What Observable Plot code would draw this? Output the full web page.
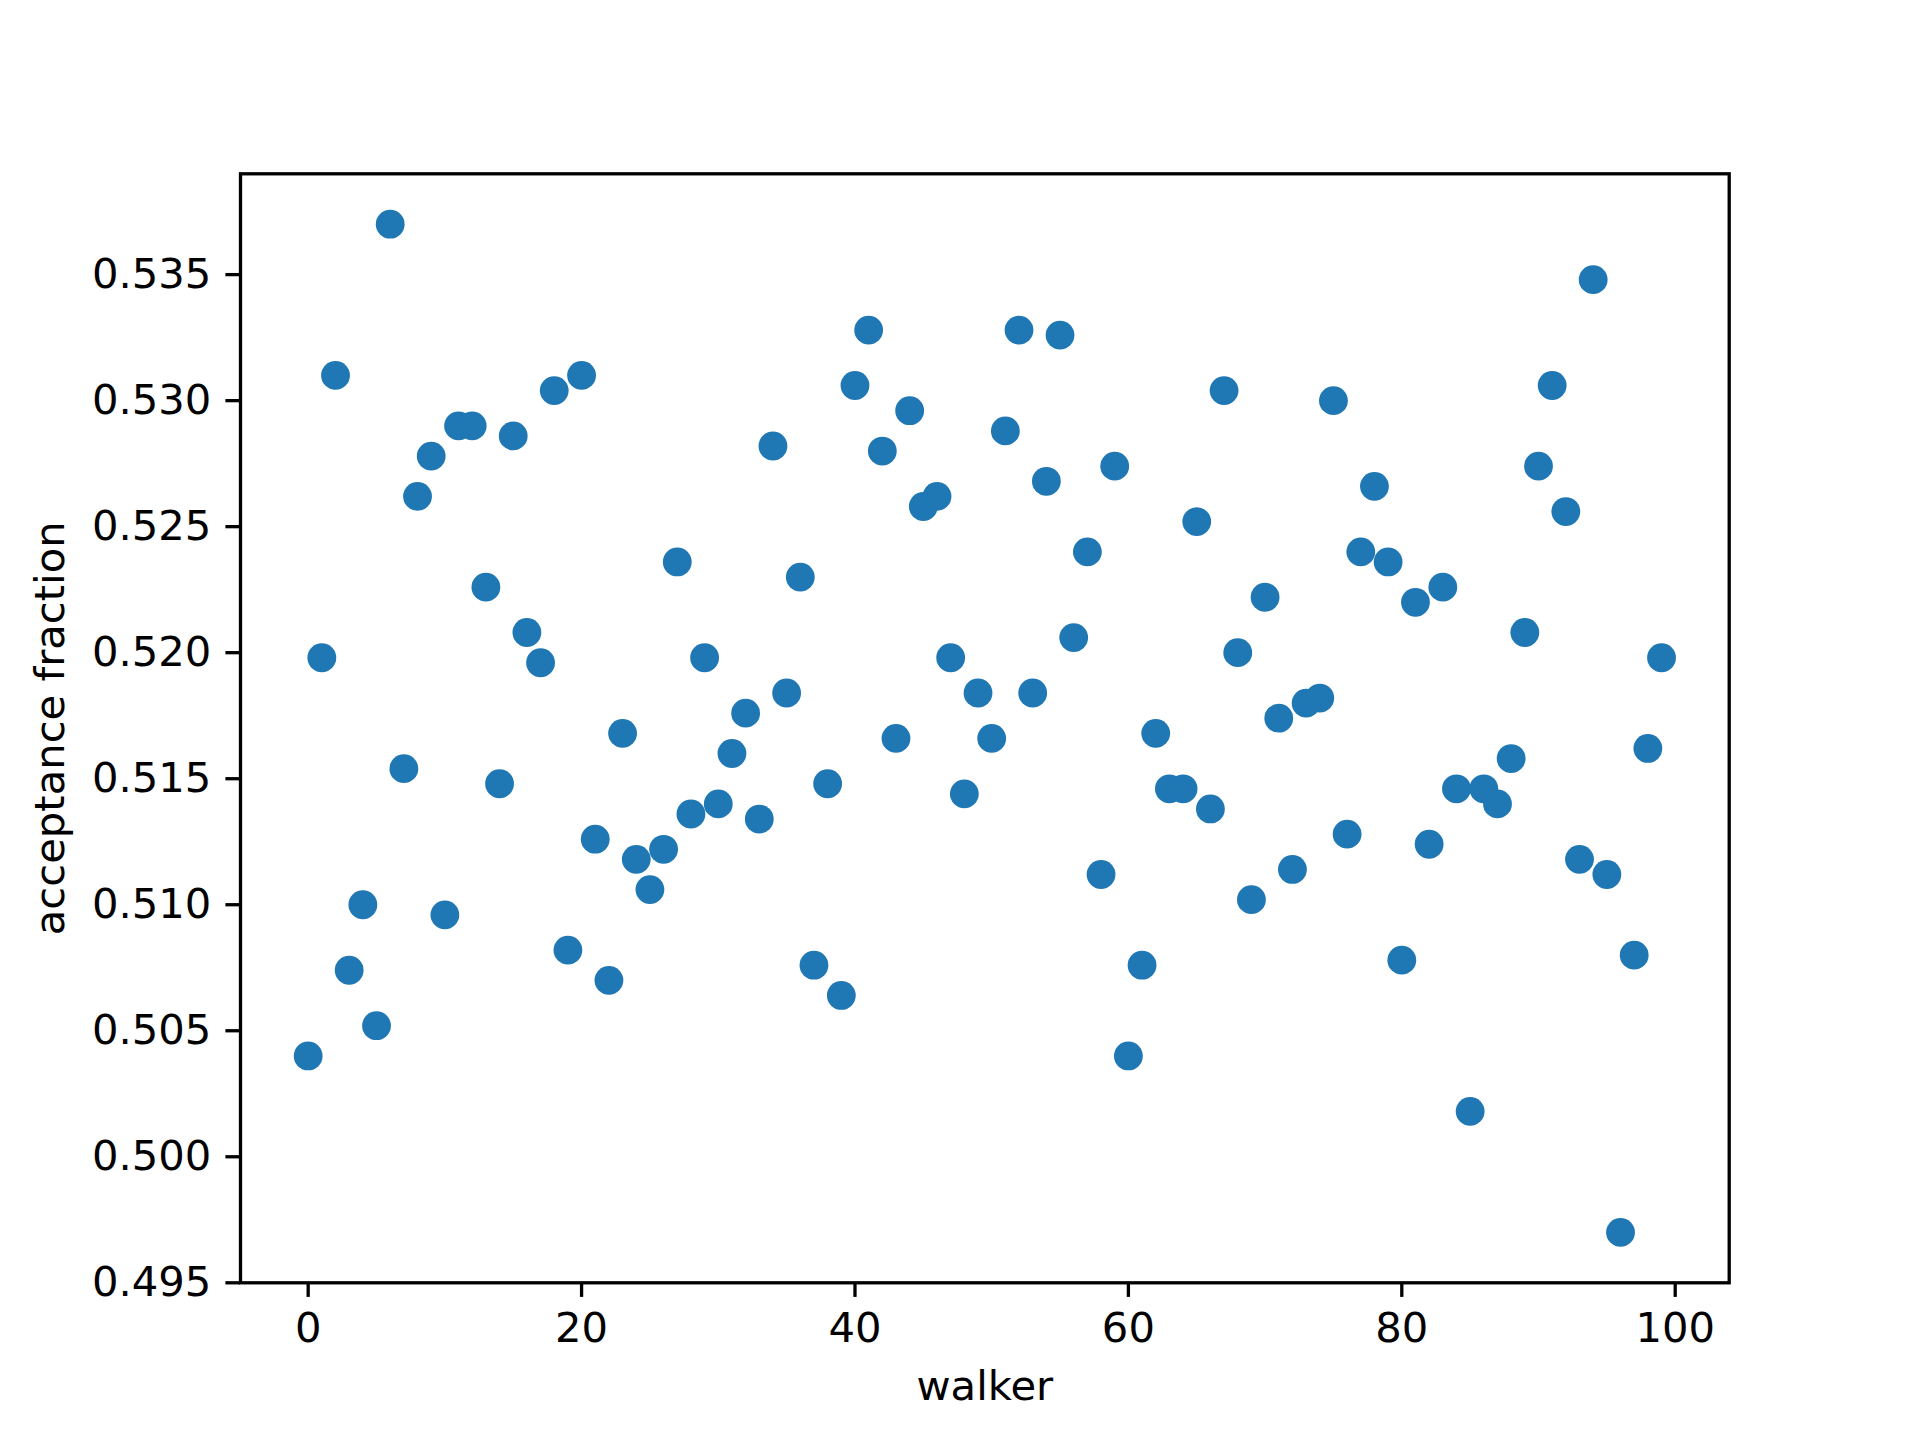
<!DOCTYPE html>
<html>
<head>
<meta charset="utf-8">
<script src="https://cdn.jsdelivr.net/npm/d3@7"></script>
<script src="https://cdn.jsdelivr.net/npm/@observablehq/plot@0.6"></script>
<style>
  html, body { margin: 0; padding: 0; background: #fff; }
  #chart { width: 1920px; height: 1440px; }
</style>
</head>
<body>
<div id="chart"></div>
<script>
// walker index (x) and acceptance fraction (y)
const walker = [
  0,1,2,3,4,5,6,7,8,9,10,11,12,13,14,15,16,17,18,19,
  20,21,22,23,24,25,26,27,28,29,30,31,32,33,34,35,36,37,38,39,
  40,41,42,43,44,45,46,47,48,49,50,51,52,53,54,55,56,57,58,59,
  60,61,62,63,64,65,66,67,68,69,70,71,72,73,74,75,76,77,78,79,
  80,81,82,83,84,85,86,87,88,89,90,91,92,93,94,95,96,97,98,99
];
const acceptance = [
  0.5040,0.5198,0.5310,0.5074,0.5100,0.5052,0.5370,0.5154,0.5262,0.5278,
  0.5096,0.5290,0.5290,0.5226,0.5148,0.5286,0.5208,0.5196,0.5304,0.5082,
  0.5310,0.5126,0.5070,0.5168,0.5118,0.5106,0.5122,0.5236,0.5136,0.5198,
  0.5140,0.5160,0.5176,0.5134,0.5282,0.5184,0.5230,0.5076,0.5148,0.5064,
  0.5306,0.5328,0.5280,0.5166,0.5296,0.5258,0.5262,0.5198,0.5144,0.5184,
  0.5166,0.5288,0.5328,0.5184,0.5268,0.5326,0.5206,0.5240,0.5112,0.5274,
  0.5040,0.5076,0.5168,0.5146,0.5146,0.5252,0.5138,0.5304,0.5200,0.5102,
  0.5222,0.5174,0.5114,0.5180,0.5182,0.5300,0.5128,0.5240,0.5266,0.5236,
  0.5078,0.5220,0.5124,0.5226,0.5146,0.5018,0.5146,0.5140,0.5158,0.5208,
  0.5274,0.5306,0.5256,0.5118,0.5348,0.5112,0.4970,0.5080,0.5162,0.5198
];
const xTicks = [0, 20, 40, 60, 80, 100];
const yTicks = [0.495, 0.500, 0.505, 0.510, 0.515, 0.520, 0.525, 0.530, 0.535];
const xLabel = "walker";
const yLabel = "acceptance fraction";

const data = walker.map((w, i) => ({walker: w, acc: acceptance[i]}));

const fs = 41.7;
const lw = 3.3;

const chart = Plot.plot({
  width: 1920,
  height: 1440,
  marginLeft: 240,
  marginRight: 191.3,
  marginTop: 173.3,
  marginBottom: 157.7,
  style: {fontFamily: "DejaVu Sans", fontSize: fs + "px", color: "black", background: "white", overflow: "visible"},
  x: {domain: [-4.95, 103.95], label: null},
  y: {domain: [0.495, 0.539], label: null},
  marks: [
    Plot.dot(data, {x: "walker", y: "acc", r: 14.4, fill: "#1f77b4", stroke: "none"}),
    Plot.frame({stroke: "black", strokeWidth: lw}),
    Plot.axisX({ticks: xTicks, tickFormat: d3.format("d"), tickSize: 14.6, tickPadding: 14.6,
      strokeWidth: lw, stroke: "black", fill: "black", label: null, fontSize: fs}),
    Plot.axisY({ticks: yTicks, tickFormat: d3.format(".3f"), tickSize: 14.6, tickPadding: 14.6,
      strokeWidth: lw, stroke: "black", fill: "black", label: null, fontSize: fs}),
    Plot.text([xLabel], {frameAnchor: "bottom", text: d => d, textAnchor: "middle",
      lineAnchor: "bottom", dy: 116.7, fontSize: fs, fill: "black"}),
    Plot.text([yLabel], {frameAnchor: "left", text: d => d, textAnchor: "middle",
      lineAnchor: "bottom", rotate: -90, dx: -176.7, fontSize: fs, fill: "black"})
  ]
});
document.getElementById("chart").appendChild(chart);
</script>
</body>
</html>
